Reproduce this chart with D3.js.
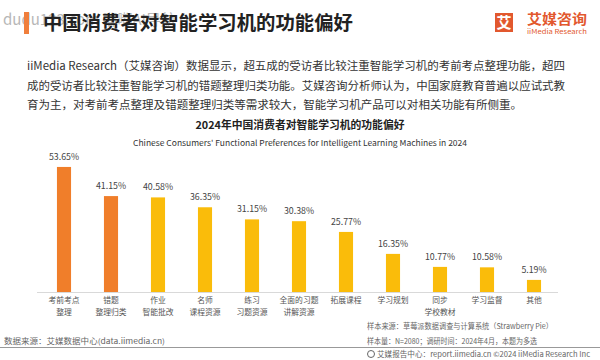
<!DOCTYPE html>
<html><head><meta charset="utf-8">
<script src="https://cdn.jsdelivr.net/npm/d3@7"></script>
<style>body{margin:0;background:#fff}svg{display:block}text{font-family:"Noto Sans CJK SC","Noto Sans",sans-serif}</style>
</head><body><svg id="c" width="600" height="360"></svg>
<script>
const categories = ["考前考点\n整理","错题\n整理归类","作业\n智能批改","名师\n课程资源","练习\n习题资源","全面的习题\n讲解资源","拓展课程","学习规划","同步\n学校教材","学习监督","其他"];
const values = [53.65,41.15,40.58,36.35,31.15,30.38,25.77,16.35,10.77,10.58,5.19];
const highlighted = [true,true,false,false,false,false,false,false,false,false,false];
const paragraph = [
 "iiMedia Research（艾媒咨询）数据显示，超五成的受访者比较注重智能学习机的考前考点整理功能，超四",
 "成的受访者比较注重智能学习机的错题整理归类功能。艾媒咨询分析师认为，中国家庭教育普遍以应试式教",
 "育为主，对考前考点整理及错题整理归类等需求较大，智能学习机产品可以对相关功能有所侧重。"
];

const svg = d3.select("#c");
svg.append("rect").attr("width",600).attr("height",360).attr("fill","#fff");

// watermark (overlaid in the reference)
svg.append("text").attr("x",3).attr("y",25).attr("font-size",15).attr("fill","#999").attr("opacity",0.7)
  .text("dudu123.com 嘟嘟AI导航");
// header
svg.append("rect").attr("x",24).attr("y",12).attr("width",5).attr("height",22).attr("fill","#F07F3C");
svg.append("text").attr("x",43).attr("y",30).attr("font-size",19).attr("font-weight","bold").attr("fill","#222")
  .attr("textLength",310).attr("lengthAdjust","spacingAndGlyphs").text("中国消费者对智能学习机的功能偏好");
// logo
svg.append("rect").attr("x",495).attr("y",13).attr("width",18).attr("height",19).attr("fill","#E2582E");
svg.append("text").attr("x",504).attr("y",28).attr("text-anchor","middle").attr("font-size",15).attr("font-weight","bold").attr("fill","#fff").text("艾");
svg.append("text").attr("x",527).attr("y",24).attr("font-size",13.5).attr("font-weight","bold").attr("fill","#E2582E")
  .attr("textLength",60).attr("lengthAdjust","spacingAndGlyphs").text("艾媒咨询");
svg.append("text").attr("x",527).attr("y",34).attr("font-size",6.3).attr("fill","#E2582E")
  .attr("textLength",60).attr("lengthAdjust","spacingAndGlyphs").text("iiMedia Research");

// paragraph
const plen = [538,538,495];
paragraph.forEach((t,i)=>{
  svg.append("text").attr("x",27).attr("y",70+i*19.5).attr("font-size",11.2).attr("fill","#333")
    .attr("textLength",plen[i]).attr("lengthAdjust","spacingAndGlyphs").text(t);
});

// chart titles
svg.append("text").attr("x",300).attr("y",129).attr("text-anchor","middle").attr("font-size",10.8).attr("font-weight","bold").attr("fill","#222")
  .text("2024年中国消费者对智能学习机的功能偏好");
svg.append("text").attr("x",300).attr("y",146).attr("text-anchor","middle").attr("font-size",8.2).attr("fill","#333")
  .attr("textLength",334).attr("lengthAdjust","spacingAndGlyphs")
  .text("Chinese Consumers' Functional Preferences for Intelligent Learning Machines in 2024");

// scales
const x = d3.scaleBand().domain(categories).range([40.5,557.5]).paddingInner(0.7).paddingOuter(0.35);
const y = d3.scaleLinear().domain([0,55]).range([292,163.8]);

const g = svg.append("g");
g.append("line").attr("x1",37).attr("x2",558).attr("y1",292.5).attr("y2",292.5).attr("stroke","#d9d9d9").attr("stroke-width",1);

g.selectAll("rect.bar").data(values).join("rect").attr("class","bar")
  .attr("x",(d,i)=>x(categories[i]))
  .attr("width",x.bandwidth())
  .attr("y",d=>y(d)).attr("height",d=>y(0)-y(d))
  .attr("fill",(d,i)=>highlighted[i]?"#F07E2A":"#FABC0A");

g.selectAll("text.val").data(values).join("text").attr("class","val")
  .attr("x",(d,i)=>x(categories[i])+x.bandwidth()/2)
  .attr("y",d=>y(d)-7)
  .attr("text-anchor","middle").attr("font-size",8.8).attr("fill","#444")
  .text(d=>d.toFixed(2)+"%");

const xAxis = svg.append("g");
categories.forEach((c,i)=>{
  const lines = c.split("\n");
  const t = xAxis.append("text").attr("x",x(c)+x.bandwidth()/2).attr("text-anchor","middle")
    .attr("font-size",7.8).attr("fill","#555");
  lines.forEach((l,j)=>t.append("tspan").attr("x",x(c)+x.bandwidth()/2).attr("y",303+j*11.5).text(l));
});

// footer
const ft = (xx,yy,s,len,anchor)=>{const t=svg.append("text").attr("x",xx).attr("y",yy).attr("font-size",7.6).attr("fill","#666").text(s);
  if(len) t.attr("textLength",len).attr("lengthAdjust","spacingAndGlyphs"); if(anchor) t.attr("text-anchor",anchor); return t;};
ft(367,329,"样本来源：草莓派数据调查与计算系统（Strawberry Pie）",186);
ft(367,344,"样本量：N=2080；调研时间：2024年4月，本题为多选",170);
ft(4,344,"数据来源：艾媒数据中心(data.iimedia.cn)",161);
svg.append("line").attr("x1",0).attr("x2",600).attr("y1",347.5).attr("y2",347.5).attr("stroke","#999").attr("stroke-width",1);
svg.append("circle").attr("cx",371).attr("cy",354).attr("r",3.5).attr("fill","none").attr("stroke","#666").attr("stroke-width",1);
ft(377,357,"艾媒报告中心：report.iimedia.cn   ©2024  iiMedia Research Inc",213);
</script></body></html>
